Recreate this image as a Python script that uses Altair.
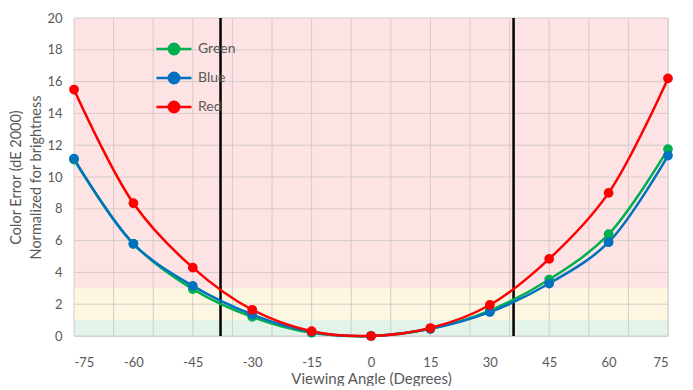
import altair as alt
import pandas as pd

angles = [-75, -60, -45, -30, -15, 0, 15, 30, 45, 60, 75]
green = [11.1, 5.8, 2.95, 1.2, 0.2, 0.0, 0.45, 1.6, 3.55, 6.4, 11.75]
blue = [11.15, 5.8, 3.15, 1.35, 0.25, 0.0, 0.45, 1.5, 3.3, 5.9, 11.35]
red = [15.5, 8.35, 4.3, 1.65, 0.3, 0.0, 0.5, 1.95, 4.85, 9.0, 16.2]
series_names = ["Green", "Blue", "Red"]
series_colors = ["#00b050", "#0070c0", "#ff0000"]

band_lo = [0, 1, 3]
band_hi = [1, 3, 20]
band_colors = ["#e2f3ea", "#fdf6e1", "#fde3e3"]

x_ticks = [-75, -60, -45, -30, -15, 0, 15, 30, 45, 60, 75]
x_gridlines = [-75, -65, -55, -45, -35, -25, -15, -5, 5, 15, 25, 35, 45, 55, 65, 75]
y_gridlines = [0, 2, 4, 6, 8, 10, 12, 14, 16, 18, 20]
cutoff_angles = [-38, 36]

FONT = "Lato"
GRAY = "#595959"
GRID = "#d6caca"

rows = []
for name, vals in zip(series_names, [green, blue, red]):
    for a, v in zip(angles, vals):
        rows.append({"angle": a, "value": v, "series": name})
df = pd.DataFrame(rows)

bands_df = pd.DataFrame({"lo": band_lo, "hi": band_hi, "c": band_colors,
                         "xlo": [-75] * 3, "xhi": [75] * 3})
xg_df = pd.DataFrame({"g": x_gridlines})
yg_df = pd.DataFrame({"g": y_gridlines})
cut_df = pd.DataFrame({"a": cutoff_angles})

xscale = alt.Scale(domain=[-75, 75], nice=False, zero=False)
yscale = alt.Scale(domain=[0, 20], nice=False)

xaxis = alt.Axis(values=x_ticks, grid=False, ticks=False, domain=True, domainColor="#d9d9d9",
                 labelFont=FONT, labelFontSize=13, labelColor=GRAY, labelPadding=20,
                 labelOverlap=False, labelExpr="datum.value + ''",
                 title="Viewing Angle (Degrees)", titleFont=FONT, titleFontSize=15,
                 titleColor=GRAY, titleFontWeight="normal", titlePadding=2)
yaxis = alt.Axis(values=y_gridlines, grid=False, ticks=False, domain=True, domainColor="#d9d9d9",
                 labelFont=FONT, labelFontSize=13, labelColor=GRAY, labelPadding=12,
                 labelOverlap=False, labelExpr="datum.value + ''",
                 title=["Color Error (dE 2000)", "Normalized for brightness"],
                 titleFont=FONT, titleFontSize=14.5, titleColor=GRAY, titleLineHeight=20,
                 titleFontWeight="normal", titlePadding=3)


def X(field):
    return alt.X(field, scale=xscale, axis=xaxis)


def Y(field):
    return alt.Y(field, scale=yscale, axis=yaxis)


bands = alt.Chart(bands_df).mark_rect().encode(
    x=X("xlo:Q"),
    x2="xhi:Q",
    y=Y("lo:Q"),
    y2="hi:Q",
    color=alt.Color("c:N", scale=None),
)

xgrid = alt.Chart(xg_df).mark_rule(color=GRID, strokeWidth=1).encode(x=X("g:Q"))
ygrid = alt.Chart(yg_df).mark_rule(color=GRID, strokeWidth=1).encode(y=Y("g:Q"))

cut = alt.Chart(cut_df).mark_rule(color="#000000", strokeWidth=2.5).encode(x=X("a:Q"))

color_enc = alt.Color(
    "series:N",
    scale=alt.Scale(domain=series_names, range=series_colors),
    sort=series_names,
    legend=alt.Legend(
        title=None, orient="none", legendX=90, legendY=21, padding=0,
        symbolType="M-2,0L2,0M-0.6,0A0.6,0.6,0,1,1,0.6,0A0.6,0.6,0,1,1,-0.6,0Z",
        symbolSize=306, symbolStrokeWidth=2.5,
        labelFont=FONT, labelFontSize=14, labelColor=GRAY, labelOffset=14,
        rowPadding=7,
    ),
)

lines = alt.Chart(df).mark_line(interpolate="catmull-rom", strokeWidth=2.5).encode(
    x=X("angle:Q"), y=Y("value:Q"), color=color_enc,
)
points = alt.Chart(df).mark_point(filled=True, size=95, opacity=1).encode(
    x=X("angle:Q"), y=Y("value:Q"), color=color_enc,
)

chart = alt.layer(bands, xgrid, ygrid, cut, lines, points).properties(
    width=594, height=318
).configure_view(stroke=None).configure(padding={"left": 0, "top": 4, "right": 5, "bottom": 0})

chart.save("out.html", embed_options={"renderer": "svg", "actions": False})
